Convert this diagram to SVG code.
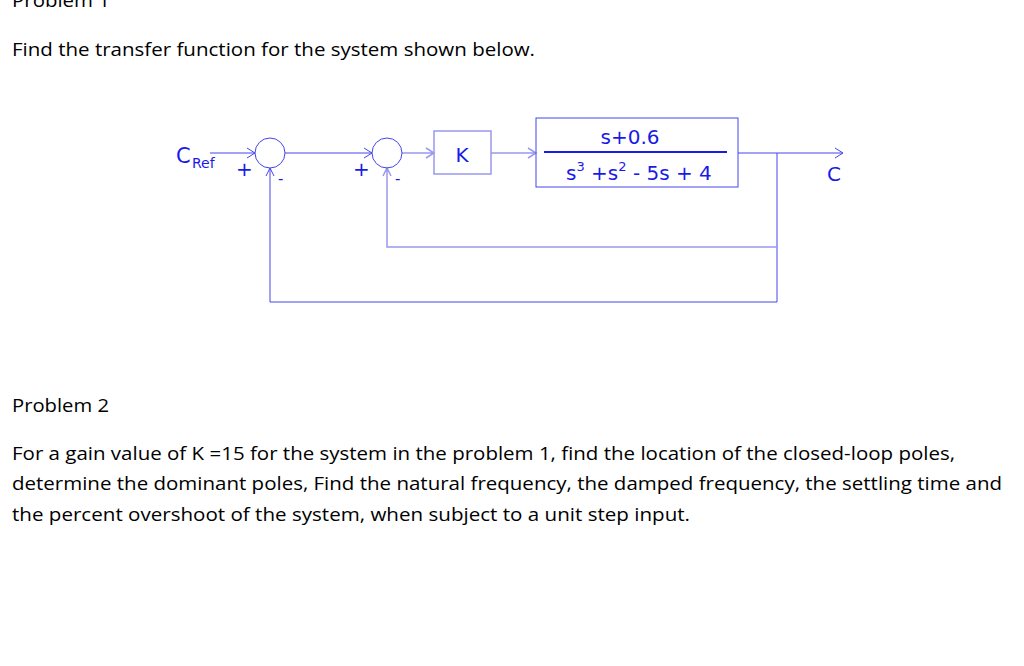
<svg xmlns="http://www.w3.org/2000/svg" width="1024" height="666" viewBox="0 0 1024 666">
<style>
.t{font-family:"Open Sans","Liberation Sans",sans-serif;font-size:19px;fill:#000}
.d{font-family:"DejaVu Sans",Verdana,sans-serif;fill:#1a1ae6}
.l{stroke:#4444ee;stroke-width:1;fill:none}
.ll{stroke:#9999ee;stroke-width:1.5;fill:none}
</style>
<rect width="1024" height="666" fill="#fff"/>
<text class="t" x="12" y="7" textLength="98" lengthAdjust="spacingAndGlyphs">Problem 1</text>
<text class="t" x="12" y="56" textLength="523" lengthAdjust="spacingAndGlyphs">Find the transfer function for the system shown below.</text>
<text class="t" x="12" y="412" textLength="97" lengthAdjust="spacingAndGlyphs">Problem 2</text>
<text class="t" x="12" y="460" textLength="943" lengthAdjust="spacingAndGlyphs">For a gain value of K =15 for the system in the problem 1, find the location of the closed-loop poles,</text>
<text class="t" x="12" y="490" textLength="990" lengthAdjust="spacingAndGlyphs">determine the dominant poles, Find the natural frequency, the damped frequency, the settling time and</text>
<text class="t" x="12" y="521" textLength="678" lengthAdjust="spacingAndGlyphs">the percent overshoot of the system, when subject to a unit step input.</text>
<g id="connectors">
<path class="l" d="M210 153H255M247 148l8 5-8 5M285 153H372M364 148l8 5-8 5"/>
<path class="ll" d="M402 153H434M426 148l8 5-8 5M491 153H536M528 148l8 5-8 5"/>
<path class="l" d="M738 153H843M835 148l8 5-8 5M777 153V302H270V168M266 176l4-8 4 8"/>
<path class="ll" d="M777 247H387V168M383 176l4-8 4 8"/>
</g>
<g id="input"><text class="d" x="176" y="163" font-size="21">C</text><text class="d" x="192" y="168" font-size="14">Ref</text></g>
<g id="sum1"><circle class="l" cx="270" cy="153" r="15"/><text class="d" x="236" y="176" font-size="20">+</text><text class="d" x="278" y="184" font-size="15">-</text></g>
<g id="sum2"><circle class="l" cx="387" cy="153" r="15"/><text class="d" x="353" y="176" font-size="20">+</text><text class="d" x="395" y="184" font-size="15">-</text></g>
<g id="K"><rect class="ll" x="434" y="131" width="57" height="43"/><text class="d" x="462" y="162" font-size="20" text-anchor="middle">K</text></g>
<g id="G"><rect class="l" x="536" y="118" width="202" height="69"/><line x1="544" y1="152" x2="727" y2="152" stroke="#1a1ae6" stroke-width="2"/>
<text class="d" x="630" y="144" font-size="20" text-anchor="middle">s+0.6</text>
<text class="d" x="566" y="180" font-size="20">s<tspan dy="-9" font-size="13">3</tspan><tspan dy="9"> +s</tspan><tspan dy="-9" font-size="13">2</tspan><tspan dy="9"> - 5s + 4</tspan></text></g>
<g id="output"><text class="d" x="834" y="181" font-size="20" text-anchor="middle">C</text></g>
</svg>
